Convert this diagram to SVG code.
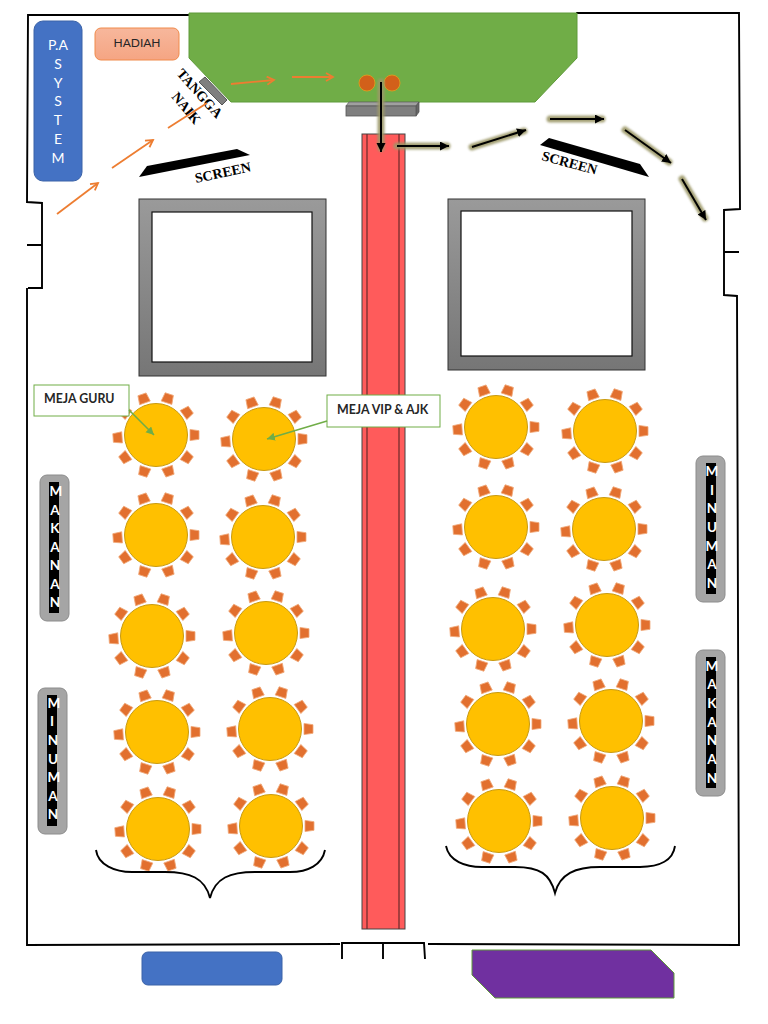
<svg xmlns="http://www.w3.org/2000/svg" width="768" height="1024" viewBox="0 0 768 1024">
<style>
.wall{fill:none;stroke:#000;stroke-width:1.9}
.tbl{fill:#ffc000;stroke:#c99a10;stroke-width:1}
.chair{fill:#e2702f;stroke:#f0a878;stroke-width:.8}
.o{fill:none;stroke:#ed7d31;stroke-width:1.8;marker-end:url(#oa)}
.on{fill:none;stroke:#ed7d31;stroke-width:1.8}
.k{fill:none;stroke:#000;stroke-width:2;marker-end:url(#ka)}
.kg{fill:none;stroke:#9c9868;stroke-width:7;stroke-linecap:round;opacity:.9;filter:url(#bl)}
.g{fill:none;stroke:#70ad47;stroke-width:1.6;marker-end:url(#ga)}
.vb{fill:#a5a5a5;stroke:#8c8c8c;stroke-width:1}
.vt{font:700 13.5px Lato,"Liberation Sans",sans-serif;fill:#fff;text-anchor:middle}
.sc{font:700 14px "Liberation Serif",serif;fill:#000}
.lb{font:700 12.4px Lato,"Liberation Sans",sans-serif;fill:#262626}
.pa{font:14px Lato,"Liberation Sans",sans-serif;fill:#fff;text-anchor:middle}
.fr{fill:url(#fg);stroke:#333;stroke-width:1}
.in{fill:#fff;stroke:#111;stroke-width:1.2}
.br{fill:none;stroke:#000;stroke-width:1.9}
</style>
<defs>
<filter id="bl" filterUnits="userSpaceOnUse" x="0" y="0" width="768" height="1024"><feGaussianBlur stdDeviation="1.1"/></filter>
<linearGradient id="fg" x1="0" y1="0" x2="0" y2="1"><stop offset="0" stop-color="#9a9a9a"/><stop offset="1" stop-color="#767676"/></linearGradient>
<linearGradient id="hg" x1="0" y1="0" x2="0" y2="1"><stop offset="0" stop-color="#f7b79c"/><stop offset="1" stop-color="#f5a583"/></linearGradient>
<marker id="oa" markerWidth="11" markerHeight="11" refX="8" refY="5" orient="auto" markerUnits="userSpaceOnUse"><path d="M1,1 L8,5 L1,9" fill="none" stroke="#ed7d31" stroke-width="1.8"/></marker>
<marker id="ka" markerWidth="11" markerHeight="11" refX="9" refY="4.5" orient="auto" markerUnits="userSpaceOnUse"><path d="M0,0 L9,4.5 L0,9 Z" fill="#000"/></marker>
<marker id="ga" markerWidth="10" markerHeight="10" refX="8" refY="4" orient="auto" markerUnits="userSpaceOnUse"><path d="M0,0 L8,4 L0,8 Z" fill="#70ad47"/></marker>
<g id="chairs">
<path id="c0" class="chair" d="M34,-5.6 L43,-4.3 L43,4.3 L34,5.6 Z"/>
<use href="#c0" transform="rotate(36)"/><use href="#c0" transform="rotate(71)"/><use href="#c0" transform="rotate(108)"/><use href="#c0" transform="rotate(144)"/><use href="#c0" transform="rotate(176)"/><use href="#c0" transform="rotate(216)"/><use href="#c0" transform="rotate(251)"/><use href="#c0" transform="rotate(288)"/><use href="#c0" transform="rotate(324)"/>
</g>
<g id="table"><use href="#chairs"/><circle class="tbl" r="31.5"/></g>
</defs>
<rect width="768" height="1024" fill="#fff"/>
<g id="walls">
<path class="wall" d="M190,15 L28,15 L27,202 L42,203 L42,288 L28,288 M27,245 L42,245 M27,288 L27,945 L340,944 M342,959 L342,943 L424,943 L425,959 M383,944 L383,959 M428,944 L739,945 L737,296 L724,295 L724,210 L740,209 L739,13 L576,13 M724,252 L739,252"/>
</g>
<g id="stage"><path d="M189,13 L577,13 L577,58 L535,102 L231,102 L189,58 Z" fill="#70ad47" stroke="#5f9a3a" stroke-width="1"/></g>
<g id="hadiah"><rect x="95" y="28" width="84" height="32" rx="6" fill="url(#hg)" stroke="#f08a4a"/><text x="137" y="47" text-anchor="middle" style="font:12px Lato,'Liberation Sans',sans-serif;fill:#262626">HADIAH</text></g>
<g id="pa-system"><rect x="34" y="21" width="48" height="160" rx="9" fill="#4472c4" stroke="#3a62a8"/>
<text class="pa" x="58" y="50">P.A</text><text class="pa" x="58" y="69">S</text><text class="pa" x="58" y="88">Y</text><text class="pa" x="58" y="106">S</text><text class="pa" x="58" y="125">T</text><text class="pa" x="58" y="144">E</text><text class="pa" x="58" y="163">M</text></g>
<g id="stairs-left"><path d="M205,77 L227,100 L222,105 L199,82 Z" fill="#7f7f7f" stroke="#555"/><text class="sc" transform="translate(176,74) rotate(48)">TANGGA</text><text class="sc" transform="translate(171,97) rotate(50)">NAIK</text></g>
<g id="screen-left"><path d="M139,177 L147,166 L237,149 L250,155 Z" fill="#000"/><text class="sc" transform="translate(196,183) rotate(-12)">SCREEN</text></g>
<g id="screen-right"><path d="M540,145 L549,138 L640,164 L649,177 Z" fill="#000"/><text class="sc" transform="translate(541,160) rotate(15)">SCREEN</text></g>
<g id="frame-left"><rect class="fr" x="139" y="199" width="187" height="177"/><rect class="in" x="152" y="212" width="160" height="150"/></g>
<g id="frame-right"><rect class="fr" x="448" y="199" width="197" height="171"/><rect class="in" x="461" y="211" width="171" height="145"/></g>
<g id="aisle"><rect x="362" y="134" width="43" height="795" fill="#ff5b5b" stroke="#444"/><path d="M367,134 V929 M399,134 V929" stroke="#6b2a2a" stroke-width="1.2" fill="none"/></g>
<g id="stage-step"><path d="M346,106 L349,102 L419,102 L416,106 Z" fill="#a0a0a0" stroke="#666" stroke-width=".8"/><path d="M416,106 L419,102 L419,112 L416,116 Z" fill="#666" stroke="#555" stroke-width=".8"/><rect x="346" y="106" width="70" height="10" fill="#7f7f7f" stroke="#555" stroke-width=".8"/></g>
<g id="speakers"><circle cx="367" cy="83" r="8" fill="#d2601a" stroke="#d99a20"/><circle cx="392" cy="83" r="8" fill="#d2601a" stroke="#d99a20"/></g>
<g id="tables">
<g id="t1" transform="translate(156,435)"><use href="#table"/></g>
<g id="t2" transform="translate(264,439)"><use href="#table"/></g>
<g id="t3" transform="translate(496,427)"><use href="#table"/></g>
<g id="t4" transform="translate(605,431)"><use href="#table"/></g>
<g id="t5" transform="translate(156,535)"><use href="#table"/></g>
<g id="t6" transform="translate(263,537)"><use href="#table"/></g>
<g id="t7" transform="translate(496,527)"><use href="#table"/></g>
<g id="t8" transform="translate(604,529)"><use href="#table"/></g>
<g id="t9" transform="translate(152,636)"><use href="#table"/></g>
<g id="t10" transform="translate(266,633)"><use href="#table"/></g>
<g id="t11" transform="translate(493,629)"><use href="#table"/></g>
<g id="t12" transform="translate(607,625)"><use href="#table"/></g>
<g id="t13" transform="translate(157,732)"><use href="#table"/></g>
<g id="t14" transform="translate(270,729)"><use href="#table"/></g>
<g id="t15" transform="translate(498,724)"><use href="#table"/></g>
<g id="t16" transform="translate(611,721)"><use href="#table"/></g>
<g id="t17" transform="translate(158,829)"><use href="#table"/></g>
<g id="t18" transform="translate(271,826)"><use href="#table"/></g>
<g id="t19" transform="translate(499,821)"><use href="#table"/></g>
<g id="t20" transform="translate(612,818)"><use href="#table"/></g>
</g>
<g id="makanan-left"><rect class="vb" x="40" y="475" width="29" height="146" rx="7"/><rect x="49" y="482" width="10" height="131" fill="#000"/>
<text class="vt" x="56" y="496">M</text><text class="vt" x="55" y="515">A</text><text class="vt" x="55" y="533">K</text><text class="vt" x="55" y="552">A</text><text class="vt" x="55" y="570">N</text><text class="vt" x="55" y="589">A</text><text class="vt" x="55" y="607">N</text></g>
<g id="minuman-left"><rect class="vb" x="38" y="688" width="29" height="146" rx="7"/><rect x="47" y="695" width="10" height="131" fill="#000"/>
<text class="vt" x="54" y="708">M</text><text class="vt" x="52" y="726">I</text><text class="vt" x="53" y="745">N</text><text class="vt" x="53" y="764">U</text><text class="vt" x="54" y="782">M</text><text class="vt" x="53" y="801">A</text><text class="vt" x="53" y="819">N</text></g>
<g id="minuman-right"><rect class="vb" x="696" y="456" width="29" height="146" rx="7"/><rect x="706" y="463" width="10" height="131" fill="#000"/>
<text class="vt" x="712" y="476">M</text><text class="vt" x="712" y="495">I</text><text class="vt" x="712" y="513">N</text><text class="vt" x="712" y="532">U</text><text class="vt" x="712" y="551">M</text><text class="vt" x="712" y="569">A</text><text class="vt" x="712" y="588">N</text></g>
<g id="makanan-right"><rect class="vb" x="696" y="650" width="29" height="146" rx="7"/><rect x="706" y="657" width="10" height="131" fill="#000"/>
<text class="vt" x="712" y="671">M</text><text class="vt" x="712" y="689">A</text><text class="vt" x="712" y="708">K</text><text class="vt" x="712" y="727">A</text><text class="vt" x="712" y="745">N</text><text class="vt" x="712" y="764">A</text><text class="vt" x="712" y="783">N</text></g>
<g id="braces">
<path class="br" d="M96,850 C98,865 115,872 132,872 L165,872 C190,872 205,878 210,898 C215,878 230,872 255,872 L290,872 C308,872 322,865 325,850"/>
<path class="br" d="M446,846 C449,861 465,867 482,867 L515,867 C540,867 550,874 555,893 C560,874 575,867 600,867 L640,867 C660,867 673,860 675,846"/>
</g>
<g id="meja-guru"><rect x="34" y="385" width="95" height="31" fill="#fff" stroke="#70ad47"/><text class="lb" x="44" y="403">MEJA GURU</text></g>
<g id="meja-vip"><rect x="327" y="395" width="113" height="32" fill="#fff" stroke="#70ad47"/><text class="lb" x="337" y="414">MEJA VIP &amp; AJK</text></g>
<g id="bar-blue"><rect x="142" y="952" width="140" height="33" rx="6" fill="#4472c4" stroke="#3a62a8"/></g>
<g id="bar-purple"><path d="M472,950 L651,950 L674,973 L674,998 L495,998 L472,975 Z" fill="#7030a0" stroke="#5f9a3a"/></g>
<g id="connectors">
<path class="o" d="M57,214 L98,183"/><path class="o" d="M112,168 L153,140"/><path class="on" d="M168,128 L207,103"/><path class="o" d="M231,84 L274,80"/><path class="o" d="M292,77 L333,77"/>
<path class="kg" d="M381,82 V148"/><path class="kg" d="M397,146 H447"/><path class="kg" d="M472,147 L524,131"/><path class="kg" d="M550,119 H602"/><path class="kg" d="M625,130 L669,162"/><path class="kg" d="M682,179 L705,218"/>
<path class="k" d="M381,82 V152"/><path class="k" d="M397,146 H449"/><path class="k" d="M472,147 L526,130"/><path class="k" d="M550,119 H604"/><path class="k" d="M625,130 L671,163"/><path class="k" d="M682,179 L706,220"/>
<path class="g" d="M129,410 L154,435"/><path class="g" d="M327,421 L267,439"/>
</g>
</svg>
